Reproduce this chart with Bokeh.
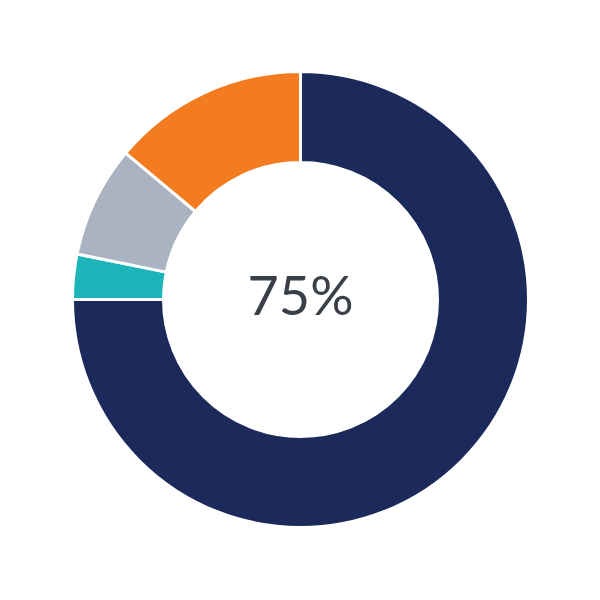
import math
from bokeh.plotting import figure
from bokeh.models import Range1d, ColumnDataSource
from bokeh.core.properties import value
from bokeh.embed import file_html
from bokeh.resources import INLINE

categories = ["A", "B", "C", "D"]
values = [75, 3.2, 7.9, 13.9]
colors = ["#1b2a5a", "#1cb5b9", "#a9b3c1", "#f37c20"]
center_label = "75%"

total = sum(values)
starts, ends = [], []
a = math.pi / 2
for v in values:
    starts.append(a)
    a -= v / total * 2 * math.pi
    ends.append(a)

src = ColumnDataSource(dict(cat=categories, val=values, color=colors,
                            start=starts, end=ends))

p = figure(width=584, height=584, output_backend="svg", toolbar_location=None,
           x_range=Range1d(8, 592), y_range=Range1d(8, 592), min_border=0)
p.axis.visible = False
p.grid.visible = False
p.outline_line_color = None

cx, cy = 308, 293
p.annular_wedge(x=cx, y=cy, inner_radius=137, outer_radius=228,
                start_angle="start", end_angle="end", direction="clock",
                fill_color="color", line_color="white", line_width=3, source=src)

p.text(x=[cx], y=[cy + 5], text=[center_label], text_align="center",
       text_baseline="middle", text_font=value("Lato"), text_font_size="54px",
       text_color="#3a4047")

open("out.html", "w").write(file_html(p, INLINE))
